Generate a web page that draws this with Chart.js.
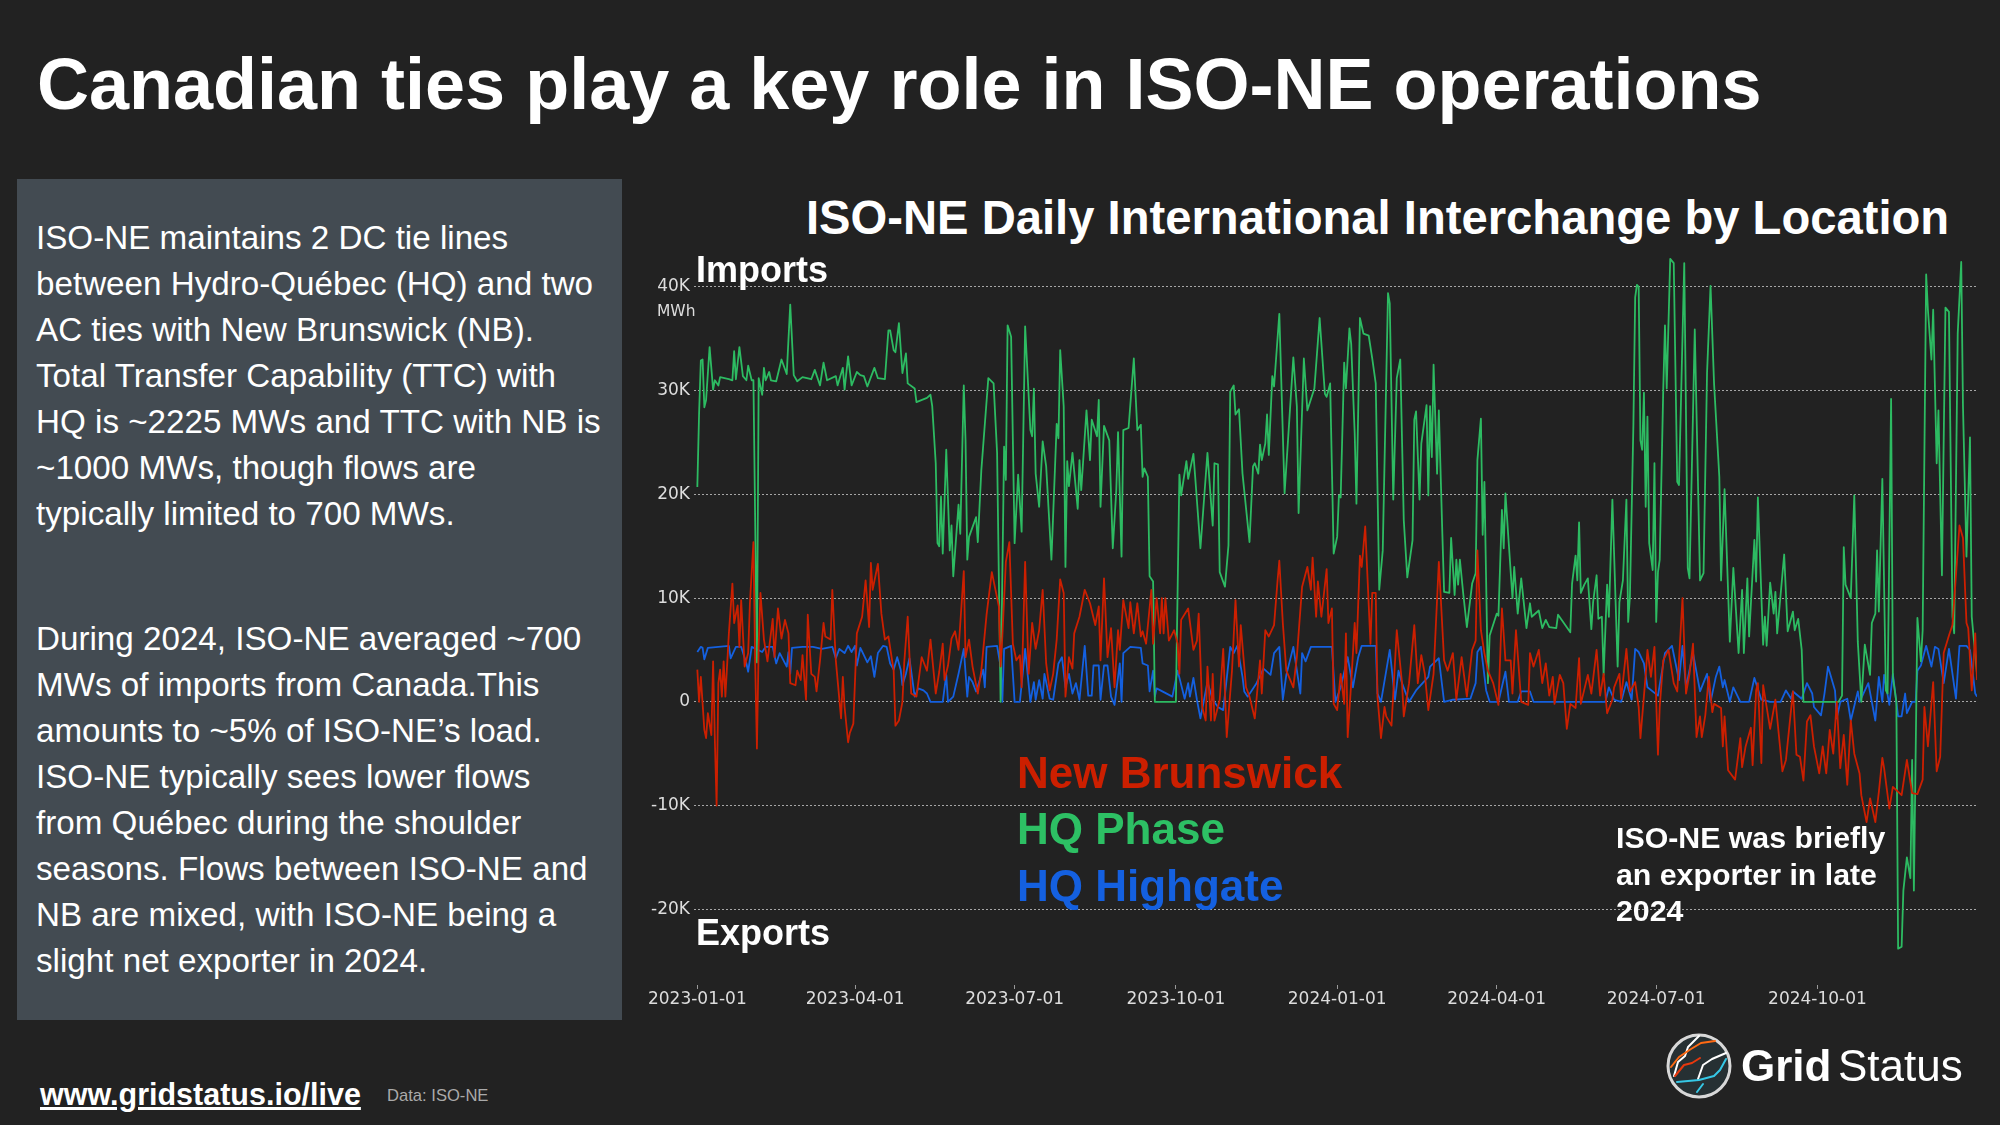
<!DOCTYPE html>
<html>
<head>
<meta charset="utf-8">
<title>Canadian ties play a key role in ISO-NE operations</title>
<script src="https://cdn.jsdelivr.net/npm/chart.js@4/dist/chart.umd.min.js"></script>
<style>
  html, body { margin: 0; padding: 0; background: #222222; }
  #page { position: relative; width: 2000px; height: 1125px; overflow: hidden; background: #222222; color: #fff; font-family: "Liberation Sans", Arial, sans-serif; }
  #page div, #page a { position: absolute; white-space: nowrap; }
  #title { left: 37px; top: 44px; font-size: 72px; line-height: 80px; font-weight: bold; }
  #panel { left: 17px; top: 179px; width: 605px; height: 841px; background: #434b52; }
  .para { left: 36px; font-size: 33.2px; line-height: 46px; color: #fff; }
  #para1 { top: 215px; }
  #para2 { top: 616px; }
  #chartTitle { left: 806px; top: 190px; font-size: 47.2px; line-height: 56px; font-weight: bold; }
  #chartBox { left: 640px; top: 200px; width: 1360px; height: 860px; }
  .tag { left: 696px; font-size: 36px; line-height: 40px; font-weight: bold; }
  #imports { top: 250px; }
  #exports { top: 913px; }
  #mwh { left: 657px; top: 302px; font-family: "DejaVu Sans"; font-size: 15.5px; line-height: 18px; color: #ddd; }
  .legend { left: 1017px; font-size: 44px; line-height: 50px; font-weight: bold; }
  #note { left: 1616px; top: 820px; font-size: 30.3px; line-height: 36.5px; font-weight: bold; }
  #link { left: 40px; top: 1076px; font-size: 30.5px; line-height: 36px; font-weight: bold; color: #fff; }
  #source { left: 387px; top: 1086px; font-size: 16.6px; line-height: 20px; color: #aaa; }
  #logo { left: 1665px; top: 1032px; width: 68px; height: 68px; }
  #gridWord { left: 1741px; top: 1040px; font-size: 44px; line-height: 52px; font-weight: bold; }
  #statusWord { left: 1838px; top: 1040px; font-size: 44px; line-height: 52px; }
</style>
</head>
<body>
<div id="page">
  <div id="title">Canadian ties play a key role in ISO-NE operations</div>
  <div id="panel"></div>
  <div id="para1" class="para">ISO-NE maintains 2 DC tie lines<br>between Hydro-Québec (HQ) and two<br>AC ties with New Brunswick (NB).<br>Total Transfer Capability (TTC) with<br>HQ is ~2225 MWs and TTC with NB is<br>~1000 MWs, though flows are<br>typically limited to 700 MWs.</div>
  <div id="para2" class="para">During 2024, ISO-NE averaged ~700<br>MWs of imports from Canada.This<br>amounts to ~5% of ISO-NE’s load.<br>ISO-NE typically sees lower flows<br>from Québec during the shoulder<br>seasons. Flows between ISO-NE and<br>NB are mixed, with ISO-NE being a<br>slight net exporter in 2024.</div>
  <div id="chartTitle">ISO-NE Daily International Interchange by Location</div>
  <div id="chartBox"><canvas id="interchangeChart" width="1360" height="860"></canvas></div>
  <div id="imports" class="tag">Imports</div>
  <div id="exports" class="tag">Exports</div>
  <div id="mwh">MWh</div>
  <div class="legend" style="top:748px;color:#cc1f00">New Brunswick</div>
  <div class="legend" style="top:804px;color:#2dc064">HQ Phase</div>
  <div class="legend" style="top:861px;color:#1460e0">HQ Highgate</div>
  <div id="note">ISO-NE was briefly<br>an exporter in late<br>2024</div>
  <a id="link" href="#">www.gridstatus.io/live</a>
  <div id="source">Data: ISO-NE</div>
  <svg id="logo" style="position:absolute" viewBox="0 0 68 68">
    <circle cx="34" cy="34" r="31" fill="#263033" stroke="#d8d8d8" stroke-width="3"/>
    <g fill="none" stroke-width="2" stroke-linecap="round" stroke-linejoin="round">
      <path d="M34 4 L23 15 L20 24 L13 30 L9 44" stroke="#fff"/>
      <path d="M50 9 L36 11 L26 17 L14 25 L6 35" stroke="#ff6a13"/>
      <path d="M35 26 L27 31 L19 33 L10 44" stroke="#e8380d"/>
      <path d="M61 21 L47 27 L38 33 L33 47" stroke="#fff"/>
      <path d="M61 27 L55 38 L49 44 L34 48 L12 50" stroke="#35c8e6"/>
      <path d="M38 52 L32 60" stroke="#35c8e6"/>
    </g>
  </svg>
  <div id="gridWord">Grid</div>
  <div id="statusWord">Status</div>
</div>

<script>
// Daily interchange: [days since 2023-01-01, thousand MWh]
const hqPhase = [[0,20.7],[1,27.8],[2,32.9],[3,33],[4,28.4],[5,29.1],[7,34.2],[9,30.1],[10,31],[12,30.5],[13,31.3],[18,31.1],[20,31],[21,33.8],[22,31.1],[24,34.2],[26,31.4],[28,31],[29,32.4],[31,31],[32,31],[34,3.8],[35,31.2],[37,29.6],[38,32.2],[39,31],[41,31.8],[42,31],[45,30.9],[48,33],[51,31.6],[53,38.3],[55,31.5],[57,30.9],[60,31.3],[65,31.1],[67,32],[70,30.5],[72,32.7],[74,31],[79,31.4],[80,30.5],[83,32.2],[84,30.1],[86,33.3],[88,30.5],[91,31.8],[93,31.5],[95,31.4],[97,30.4],[101,32.2],[103,31.2],[107,31.1],[109,35.8],[110,35.8],[112,33.9],[113,33.7],[115,36.5],[117,31.7],[119,33.6],[120,30.7],[124,30.2],[125,28.9],[131,29.3],[133,29.6],[134,28.5],[136,23],[137,15.3],[138,15],[139,19.8],[140,14.3],[142,24.3],[144,14.6],[145,17],[146,12.1],[149,19],[150,16.2],[152,30.5],[153,25.2],[154,13.7],[155,15.9],[159,17.8],[160,15.4],[162,22.3],[166,31.2],[169,30.7],[171,24],[173,0],[175,24.6],[176,21.4],[177,36.3],[179,35.2],[181,15.3],[183,21.9],[185,16.4],[187,36.2],[190,26.2],[191,25.6],[192,30.2],[193,22],[195,18.8],[197,25.1],[199,22.7],[202,13.7],[205,26.8],[206,25.4],[207,33.9],[209,28.5],[210,13],[211,23.2],[212,20.8],[214,24],[217,18.6],[218,23.3],[219,20.4],[222,28.1],[224,23.3],[225,27.2],[228,25.6],[229,29.1],[230,18.8],[232,26.6],[235,25.2],[237,14.8],[239,20.4],[240,26],[242,14],[243,26.2],[246,26.4],[247,28.6],[249,33.1],[251,26.2],[253,26.7],[254,21.7],[255,22.5],[257,21.7],[258,12.1],[260,11.6],[261,0],[273,0],[275,21.9],[276,19.9],[279,23.2],[280,21.5],[283,23.9],[284,21.7],[287,14.8],[291,24],[294,17],[295,23],[297,22.9],[298,12.5],[301,11.1],[303,15.1],[304,29.9],[306,30.5],[307,27.7],[309,28.2],[311,22],[315,15.4],[317,22.7],[318,23],[320,22],[321,24.8],[322,23.3],[324,24.9],[325,27.7],[326,23.8],[328,31.4],[329,30.4],[332,37.4],[335,20.1],[340,33.2],[342,28.5],[343,18.2],[346,33.1],[348,28.1],[352,30.2],[355,37],[358,29.7],[359,29.4],[361,30.7],[363,14.3],[365,15.9],[366,19.9],[367,19.7],[369,32.7],[370,30.2],[372,36],[373,34.5],[375,25.9],[376,19.1],[378,37],[380,35.5],[383,35.3],[385,33.1],[387,30.7],[389,10.8],[391,14.6],[394,39.4],[395,38.4],[397,19.5],[399,31.2],[401,33],[403,17.5],[405,12],[408,15.6],[409,27.2],[410,28],[412,19.5],[413,24.9],[416,28.6],[417,19.9],[418,28.5],[419,23.6],[420,32.5],[422,22],[423,28.1],[425,16.2],[426,10.6],[429,10.5],[430,15.8],[432,10.3],[433,13.7],[434,11.3],[435,13.7],[437,10.3],[439,7.2],[442,11.4],[444,12.4],[445,23.3],[447,27.3],[448,16.1],[449,21.2],[451,1.8],[452,6.4],[456,8.5],[457,8.3],[459,18.5],[460,14.8],[461,20.1],[463,15],[465,10],[466,13],[468,8.5],[470,11.9],[473,7.1],[475,9.5],[476,8.2],[480,8.8],[482,7.1],[484,7.9],[486,7.2],[490,7.1],[491,8.4],[498,6.7],[499,11.4],[501,14.1],[502,11.7],[503,17.3],[504,10.5],[506,11.3],[508,11.9],[510,7],[511,9.6],[513,12.2],[514,8],[516,8.2],[517,2.6],[519,11.3],[520,8.2],[522,19.5],[525,3.4],[526,9.6],[528,11.7],[530,19.5],[531,7.7],[532,10.1],[534,26.8],[535,39],[536,40.2],[537,40],[538,25.2],[539,24.3],[540,29.8],[541,18.8],[542,27.5],[543,15.3],[545,12.7],[546,23],[547,7.7],[548,12.5],[549,13.7],[551,30],[552,36.3],[553,30.2],[555,42.7],[557,42.3],[559,21.2],[560,20.9],[563,42.3],[565,12.9],[566,11.9],[569,35.9],[572,11.7],[574,12.4],[576,31.7],[578,40.1],[580,30.7],[583,21.7],[584,11.7],[586,20.5],[589,5.8],[591,12.9],[594,4.7],[596,10.8],[597,4.7],[599,11.9],[600,6.3],[603,15.6],[604,11.6],[605,19.7],[608,5.5],[609,8.2],[610,5.4],[612,11.5],[614,8.5],[615,10.6],[616,6.6],[620,14.2],[622,6.8],[625,8.7],[626,6.9],[628,8],[630,5],[631,0],[651,0],[653,0.6],[654,14.9],[655,11.3],[658,10],[660,19.9],[662,5.8],[664,0],[666,5.5],[669,2.6],[670,7.6],[672,8.5],[673,14.6],[674,8.7],[676,21.5],[678,1.1],[679,0.8],[681,29.2],[682,2.4],[684,0],[685,-23.8],[687,-23.6],[688,-18.2],[690,-15],[692,-17],[693,-5.6],[694,-18.2],[696,8.1],[698,3.9],[699,6.9],[701,41.2],[702,37.8],[704,33],[705,37.8],[707,23],[708,28.1],[710,12.2],[712,38],[714,37.6],[716,8.2],[717,6.6],[719,35.5],[721,42.4],[722,28.5],[724,14],[726,25.5],[727,8.2],[730,2.7]];

const hqHighgate = [[0,4.8],[2,5.3],[3,5.2],[4,4.1],[6,5.2],[18,5.4],[19,4.2],[22,5.3],[25,5.3],[28,3.7],[29,2.9],[31,5.3],[37,4.8],[39,5.3],[43,5.3],[45,3.7],[47,4.7],[51,3.4],[52,4.8],[53,2.7],[54,5.2],[60,5.3],[66,5.3],[71,5.1],[77,5.3],[79,4.2],[81,5.1],[84,4.7],[86,5.4],[88,4.8],[90,5.4],[91,3.5],[93,5.2],[97,3.8],[99,4.4],[101,2.4],[103,4.7],[106,5.4],[108,5.3],[110,3.7],[112,3.1],[114,4.3],[116,3.1],[117,1.6],[119,2.7],[121,4.2],[124,0.5],[126,1.3],[129,1.1],[131,0.8],[133,0],[140,0],[142,2.6],[143,0],[146,0.5],[149,2.7],[152,5.1],[154,0.5],[155,2.4],[157,1.9],[159,1],[163,3.1],[164,1.4],[165,5.3],[171,5.4],[173,3.4],[174,0],[175,5.1],[179,5.4],[181,0],[184,0],[187,5.1],[190,0],[192,1.9],[193,0.2],[195,2.1],[197,0.3],[198,2.7],[201,0.3],[203,0.2],[206,3.7],[208,4.3],[210,1.4],[212,2.7],[214,0.8],[216,1.8],[218,0.2],[221,5.4],[223,0.6],[225,0.6],[226,3.5],[229,3.5],[230,0.2],[232,3.5],[234,3.5],[236,0.5],[238,-0.3],[241,3.7],[242,0],[243,4.7],[247,5.3],[253,5.2],[254,3.7],[257,3.5],[258,1],[260,3],[261,0.5],[262,1.3],[271,0.5],[274,3],[278,0.3],[280,1.8],[281,0.5],[283,2.3],[285,0.2],[287,-1.6],[291,1.9],[294,0.2],[297,-0.5],[300,-0.8],[304,5.3],[306,4.7],[308,5.4],[311,2.4],[312,1],[314,0.5],[319,1.8],[323,3.2],[327,2.6],[329,4.7],[332,5.3],[334,0.2],[336,2.6],[340,5.3],[344,0.8],[345,4.7],[347,3.9],[350,5.3],[362,5.3],[364,0],[367,1.4],[371,4.3],[374,1.4],[377,4.3],[379,5.4],[387,5.4],[388,0.8],[390,0],[395,5],[398,0.2],[400,3],[402,1.8],[406,0],[410,1.1],[417,2.4],[418,3.4],[423,4.2],[426,0],[431,0.2],[441,0.3],[444,1.8],[445,4.8],[447,5.3],[450,1.1],[452,0],[457,0],[461,2.9],[463,0],[468,0],[470,1],[475,1],[477,0],[518,0],[520,1.4],[523,0.2],[527,0],[530,1.9],[533,0.2],[535,5.1],[537,4.8],[540,3.7],[542,1.4],[548,0.6],[552,4.7],[556,5.4],[560,2.1],[562,5.4],[564,1.4],[568,4.7],[572,1],[576,2.7],[578,0],[581,2.4],[583,3.4],[585,1.4],[586,2.1],[589,0],[591,1.4],[595,0],[600,0],[603,2.3],[607,0.2],[612,0],[618,0],[621,1.1],[624,0.3],[625,1],[630,0.3],[633,1.8],[636,0.8],[637,-0.5],[641,-1.3],[643,0.8],[645,3.4],[649,1.1],[650,-1.6],[652,0],[656,0.3],[658,-1.8],[662,1],[663,0],[668,1.8],[672,-1.8],[674,2.4],[676,0],[677,2.6],[680,-0.3],[682,2.7],[685,-1.4],[687,-1.4],[689,0.8],[690,-1.1],[693,0],[695,0],[696,3],[698,3.5],[701,5.4],[704,3.4],[706,5.3],[708,5.1],[711,1.8],[714,5.1],[718,0.3],[720,5.4],[724,5.4],[726,5],[729,0.8],[730,0.5]];

const newBrunswick = [[0,3.1],[1,0],[2,2.4],[4,-2.7],[5,-3.5],[6,-1.1],[8,-3.2],[9,3.9],[10,-3.7],[11,-10],[12,1.8],[13,3.1],[14,0.5],[15,3.9],[16,0.5],[18,6.6],[20,11.4],[21,7.6],[23,9.3],[24,5.3],[25,9.8],[27,3.4],[29,4.7],[30,9.5],[32,15.4],[33,3.7],[34,-4.5],[35,5.3],[36,10.5],[38,6],[40,3.9],[43,8],[44,4.3],[46,9],[48,6.1],[50,7.9],[52,6.6],[53,1.8],[56,1.6],[57,3],[59,2.1],[60,4.5],[62,0.2],[63,8.4],[65,2.7],[67,2.4],[68,1],[70,4],[72,7.6],[73,6.3],[76,6],[77,10.8],[79,4],[82,-1.6],[83,2.4],[84,-0.5],[86,-3.9],[87,-3],[89,-2.1],[91,6.6],[94,8.2],[96,11.7],[98,7.2],[99,13.4],[100,10.8],[103,13.3],[105,8.5],[107,6],[109,6.3],[112,3],[113,-2.3],[115,-1.8],[117,0],[118,3.7],[120,8.2],[122,0.8],[125,0.5],[128,4.3],[131,3],[133,6],[136,0.8],[138,2.9],[140,5.6],[141,2.1],[143,3.5],[145,6.1],[147,6.8],[149,5],[152,12.6],[153,4.3],[155,6],[157,3.4],[160,0.8],[162,3],[165,8.4],[168,12.5],[172,9.2],[173,3.4],[174,6.3],[176,13.5],[178,15.4],[180,5.6],[182,4],[184,4.5],[185,1.4],[187,13.5],[189,2.7],[191,7.6],[193,5.1],[195,6.9],[197,10.8],[199,3.7],[201,1.1],[203,2.7],[205,6],[207,11.8],[209,10.5],[210,0.5],[212,4.3],[214,3.2],[215,6.6],[218,8.2],[221,10.8],[224,9.5],[227,7.4],[229,9.2],[230,4],[232,11.9],[234,4.3],[236,7.1],[238,1.4],[240,6.9],[241,5],[243,9.8],[246,7.1],[247,9.6],[249,6.6],[251,9.5],[253,6.3],[254,6.8],[256,5.6],[259,10.8],[260,5.6],[262,10],[264,6.6],[265,10],[266,6.6],[267,10],[269,5.9],[272,6.9],[274,5.6],[275,2.7],[276,7.9],[280,9],[283,5],[285,5.9],[286,8.5],[288,-0.5],[290,-1.8],[291,3.4],[293,-1.8],[294,2.7],[295,-1.8],[298,0.2],[300,5.1],[302,-3.4],[305,3],[307,9.8],[309,3.4],[310,7.4],[313,1.4],[315,0.5],[318,-1.6],[321,4],[322,0.8],[324,6.9],[326,6.3],[329,7.4],[331,11.7],[332,13.6],[334,7.6],[336,3],[340,1.4],[342,4.3],[345,11.1],[348,13],[350,10.8],[351,13.9],[353,8.2],[354,11.6],[356,8.2],[359,12.8],[360,7.6],[362,9],[363,-0.2],[365,-0.8],[367,2.7],[369,-0.2],[370,6.6],[371,-3.4],[373,1.8],[375,7.6],[376,4.7],[378,14.1],[379,13],[381,16.9],[384,5.6],[385,10.5],[387,10.5],[388,0.5],[390,-3.5],[392,-0.5],[393,-1.4],[396,-2.3],[399,6.9],[402,1.8],[403,-1.4],[406,1.8],[409,7.4],[411,1.8],[413,4.5],[415,2.7],[417,-0.8],[420,2.7],[423,13.5],[426,4],[428,3],[431,4.7],[433,0.2],[436,4.3],[439,0.5],[442,5],[444,5.9],[445,14.6],[447,6.9],[449,4.7],[451,3],[454,1.8],[457,-0.3],[459,9],[461,4],[464,4],[465,0.8],[467,6.9],[470,0],[474,-0.3],[475,4.7],[477,3.4],[480,5],[482,1.8],[484,3.7],[486,0.6],[488,2.4],[489,-0.2],[492,2.6],[494,1.8],[496,-2.6],[498,-0.2],[501,-0.6],[503,4.2],[504,-0.2],[508,2.6],[510,0.8],[513,5],[515,0.6],[517,2.7],[519,-1.1],[522,0.2],[523,1.4],[526,2.7],[527,0.3],[530,5.1],[532,1],[535,1.9],[537,-0.5],[538,-3.5],[541,2.6],[542,5],[544,2.4],[546,5.3],[548,-5.1],[549,-0.5],[551,4],[554,5],[557,1.8],[559,1],[562,10],[564,0.8],[566,2.7],[568,5.6],[570,-3.4],[572,-1.4],[573,-3.4],[575,-1.3],[577,2.4],[579,-1],[580,-0.2],[584,-0.6],[585,-4.3],[586,-1.4],[588,-6.6],[592,-7.5],[595,-3.5],[596,-6.3],[598,-4.3],[601,-2.5],[602,-6.1],[604,1.1],[605,1.8],[607,-5.9],[608,1.6],[612,-2.6],[615,0.2],[619,-6.7],[621,-5.6],[625,1],[627,-5.1],[629,-5.3],[631,-7.6],[633,-1.9],[635,-1.3],[637,-4.3],[640,-6.9],[642,-4.3],[644,-6.9],[646,-2.7],[648,-5],[650,0],[652,-6.4],[654,-3.2],[656,-8],[658,-1.8],[660,-5],[663,-6.9],[664,-9],[667,-11.6],[669,-9.3],[672,-11.6],[674,-8.7],[676,-5.4],[677,-6.4],[680,-10.3],[682,-8.2],[687,-9],[690,-5.6],[693,-8.8],[696,-8.9],[699,-7.5],[700,-0.5],[702,-4.3],[705,1.9],[707,-6.7],[709,-5.3],[711,4.7],[714,6.4],[716,7.4],[720,17],[722,15.8],[724,7.6],[725,7.1],[727,1.1],[729,6.6],[730,2.1]];

const tickDays = [0, 90, 181, 273, 365, 456, 547, 639];
const tickLabels = ['2023-01-01', '2023-04-01', '2023-07-01', '2023-10-01', '2024-01-01', '2024-04-01', '2024-07-01', '2024-10-01'];
const yTicks = [-20, -10, 0, 10, 20, 30, 40];

const toPoints = rows => rows.map(r => ({ x: r[0], y: r[1] }));
const lineSet = (label, rows, color) => ({
    label: label,
    data: toPoints(rows),
    borderColor: color,
    borderWidth: 1.8,
    borderJoinStyle: 'round',
    pointRadius: 0,
    tension: 0,
    fill: false
});

new Chart(document.getElementById('interchangeChart'), {
    type: 'line',
    data: {
        datasets: [
            lineSet('New Brunswick', newBrunswick, '#cc1f00'),
            lineSet('HQ Phase', hqPhase, '#2dbb62'),
            lineSet('HQ Highgate', hqHighgate, '#1460e0')
        ]
    },
    options: {
        responsive: false,
        animation: false,
        layout: { padding: { top: 45, right: 23, left: 0, bottom: 0 } },
        plugins: { legend: { display: false }, tooltip: { enabled: false } },
        scales: {
            x: {
                type: 'linear',
                min: -1.9,
                max: 730,
                afterFit: s => { s.height = 75; },
                afterBuildTicks: axis => { axis.ticks = tickDays.map(v => ({ value: v })); },
                border: { display: false },
                grid: { drawOnChartArea: false, drawTicks: true, tickLength: 4, tickColor: '#999999' },
                ticks: {
                    color: '#dddddd',
                    font: { family: 'DejaVu Sans', size: 17 },
                    maxRotation: 0,
                    autoSkip: false,
                    padding: 0,
                    callback: v => tickLabels[tickDays.indexOf(v)]
                }
            },
            y: {
                min: -27.3,
                max: 44.04,
                afterFit: s => { s.width = 54; },
                afterBuildTicks: axis => { axis.ticks = yTicks.map(v => ({ value: v })); },
                border: { display: false, dash: [2, 2] },
                grid: { color: 'rgba(255,255,255,0.6)', drawTicks: false, lineWidth: 1 },
                ticks: {
                    color: '#dddddd',
                    font: { family: 'DejaVu Sans', size: 17 },
                    padding: 4,
                    callback: v => v === 0 ? '0' : v + 'K'
                }
            }
        }
    }
});
</script>
</body>
</html>
